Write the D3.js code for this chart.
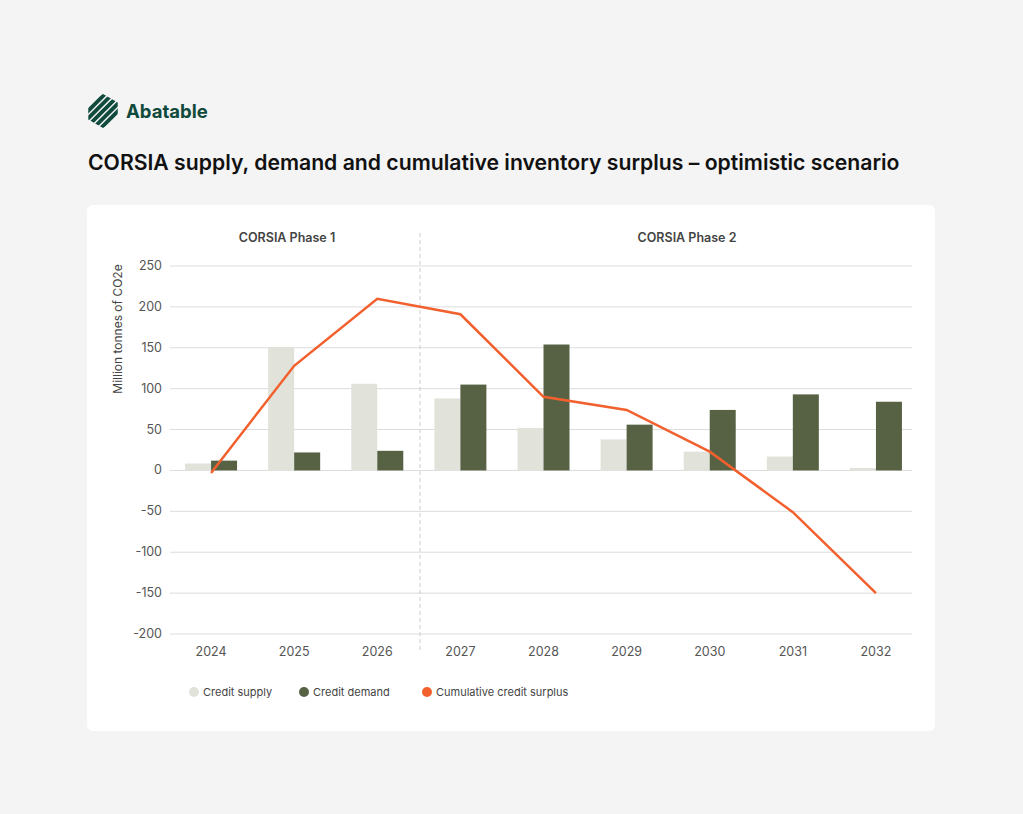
<!DOCTYPE html>
<html><head><meta charset="utf-8">
<script src="https://cdn.jsdelivr.net/npm/d3@7"></script>
<style>body{margin:0;background:#f4f4f4;font-family:Inter,"Open Sans",sans-serif}</style>
</head><body>
<svg id="c" width="1023" height="814"></svg>
<script>
const years=["2024","2025","2026","2027","2028","2029","2030","2031","2032"];
const supply=[8.5,151,106,88,52,38,23,17,3];
const demand=[12,22,24,105,154,56,74,93,84];
const surplus=[-3,128,210,191,90,74,23,-51,-150];
const yTicks=[250,200,150,100,50,0,-50,-100,-150,-200];

const svg=d3.select("#c");
svg.append("rect").attr("width",1023).attr("height",814).attr("fill","#f4f4f4");
const lg=svg.append("g").attr("transform","translate(103,111)");
lg.append("clipPath").attr("id","hex").append("polygon")
 .attr("points",d3.range(6).map(i=>{const a=Math.PI/3*i+Math.PI/6;return [17*Math.cos(a),17*Math.sin(a)].join(",")}).join(" "));
const lgi=lg.append("g").attr("clip-path","url(#hex)");
[-15,-7.5,0,7.5,15].forEach(o=>lgi.append("line").attr("x1",o-20).attr("y1",20).attr("x2",o+20).attr("y2",-20).attr("stroke","#0f4a3c").attr("stroke-width",3.8));
svg.append("text").attr("x",126).attr("y",118).attr("font-size",18.5).attr("font-weight",700).attr("fill","#0f4a3c").text("Abatable");
svg.append("text").attr("x",88).attr("y",170).attr("font-size",21.2).attr("font-weight",600).attr("fill","#111").text("CORSIA supply, demand and cumulative inventory surplus – optimistic scenario");
svg.append("rect").attr("x",87).attr("y",205).attr("width",848).attr("height",526).attr("rx",6).attr("fill","#fff");

const x=d3.scaleBand().domain(years).range([169.5,917.5]);
const y=d3.scaleLinear().domain([-200,250]).range([634,266]);
const g=svg.append("g");
yTicks.forEach(t=>{
 g.append("line").attr("x1",170).attr("x2",912).attr("y1",y(t)).attr("y2",y(t)).attr("stroke","#dcdcdc");
 g.append("text").attr("x",162).attr("y",y(t)+4).attr("text-anchor","end").attr("font-size",12.5).attr("fill","#555").text(t);
});
years.forEach(d=>g.append("text").attr("x",x(d)+x.bandwidth()/2).attr("y",656).attr("text-anchor","middle").attr("font-size",12.5).attr("fill","#555").text(d));
g.append("text").attr("transform","translate(122,329) rotate(-90)").attr("text-anchor","middle").attr("font-size",12).attr("fill","#444").text("Million tonnes of CO2e");
g.append("line").attr("x1",420).attr("x2",420).attr("y1",233).attr("y2",650).attr("stroke","#ccc").attr("stroke-dasharray","4,3");
g.append("text").attr("x",287).attr("y",242).attr("text-anchor","middle").attr("font-size",12.5).attr("font-weight",600).attr("fill","#444").text("CORSIA Phase 1");
g.append("text").attr("x",687).attr("y",242).attr("text-anchor","middle").attr("font-size",12.5).attr("font-weight",600).attr("fill","#444").text("CORSIA Phase 2");
const bw=26;
g.selectAll(".s").data(years).join("rect").attr("x",d=>x(d)+x.bandwidth()/2-bw).attr("width",bw)
 .attr("y",(d,i)=>y(supply[i])).attr("height",(d,i)=>y(0)-y(supply[i])).attr("fill","#e1e3da");
g.selectAll(".d").data(years).join("rect").attr("x",d=>x(d)+x.bandwidth()/2).attr("width",bw)
 .attr("y",(d,i)=>y(demand[i])).attr("height",(d,i)=>y(0)-y(demand[i])).attr("fill","#576245");
g.append("path").datum(surplus).attr("fill","none").attr("stroke","#f2602d").attr("stroke-width",2.5)
 .attr("d",d3.line().x((d,i)=>x(years[i])+x.bandwidth()/2).y(d=>y(d)));
const leg=[["Credit supply","#e1e3da",194],["Credit demand","#576245",304],["Cumulative credit surplus","#f2602d",427]];
leg.forEach(([t,c,lx])=>{g.append("circle").attr("cx",lx).attr("cy",692).attr("r",5).attr("fill",c);
 g.append("text").attr("x",lx+9).attr("y",696).attr("font-size",11).attr("fill","#444").text(t);});
</script></body></html>
